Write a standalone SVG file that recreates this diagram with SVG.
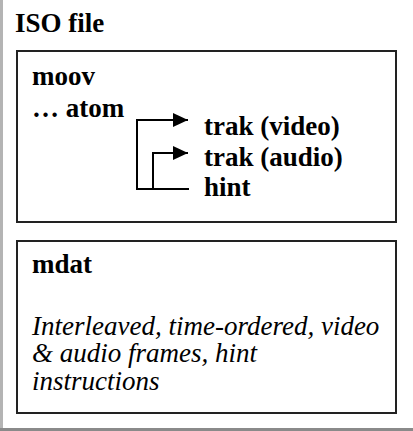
<svg xmlns="http://www.w3.org/2000/svg" width="413" height="431" viewBox="0 0 413 431">
  <style>
    .b { font-family: "Liberation Serif", "Times New Roman", serif; font-weight: bold; font-size: 27px; fill: #000; }
    .i { font-family: "Liberation Serif", "Times New Roman", serif; font-style: italic; font-size: 27px; fill: #000; }
    .box { fill: #fff; stroke: #222; stroke-width: 2; }
    .ln { fill: none; stroke: #000; stroke-width: 2; }
  </style>
  <defs>
    <marker id="ah" markerUnits="userSpaceOnUse" markerWidth="16" markerHeight="16" refX="15" refY="7" orient="auto">
      <path d="M0,0 L15,7 L0,14 Z" fill="#000"/>
    </marker>
  </defs>
  <rect width="413" height="431" fill="#fff"/>
  <g id="iso-file">
    <rect x="0" y="0" width="3" height="431" fill="#b4b4b4"/>
    <rect x="0" y="428" width="413" height="3" fill="#8a8a8a"/>
    <text class="b" x="15" y="32">ISO file</text>
  </g>
  <g id="moov">
    <rect class="box" x="17" y="51" width="379" height="171"/>
    <text class="b" x="32" y="85">moov</text>
    <text class="b" x="32" y="117">… atom</text>
  </g>
  <g id="trak-video">
    <text class="b" x="204" y="135">trak (video)</text>
  </g>
  <g id="trak-audio">
    <text class="b" x="204" y="166">trak (audio)</text>
  </g>
  <g id="hint">
    <text class="b" x="204" y="196">hint</text>
  </g>
  <g id="connectors">
    <path class="ln" d="M189,189 L137,189 L137,120 L188,120" marker-end="url(#ah)"/>
    <path class="ln" d="M153,189 L153,153 L188,153" marker-end="url(#ah)"/>
  </g>
  <g id="mdat">
    <rect class="box" x="17" y="241" width="379" height="172"/>
    <text class="b" x="32" y="273">mdat</text>
    <text class="i" x="32" y="335">Interleaved, time-ordered, video</text>
    <text class="i" x="32" y="362">&amp; audio frames, hint</text>
    <text class="i" x="32" y="390">instructions</text>
  </g>
</svg>
